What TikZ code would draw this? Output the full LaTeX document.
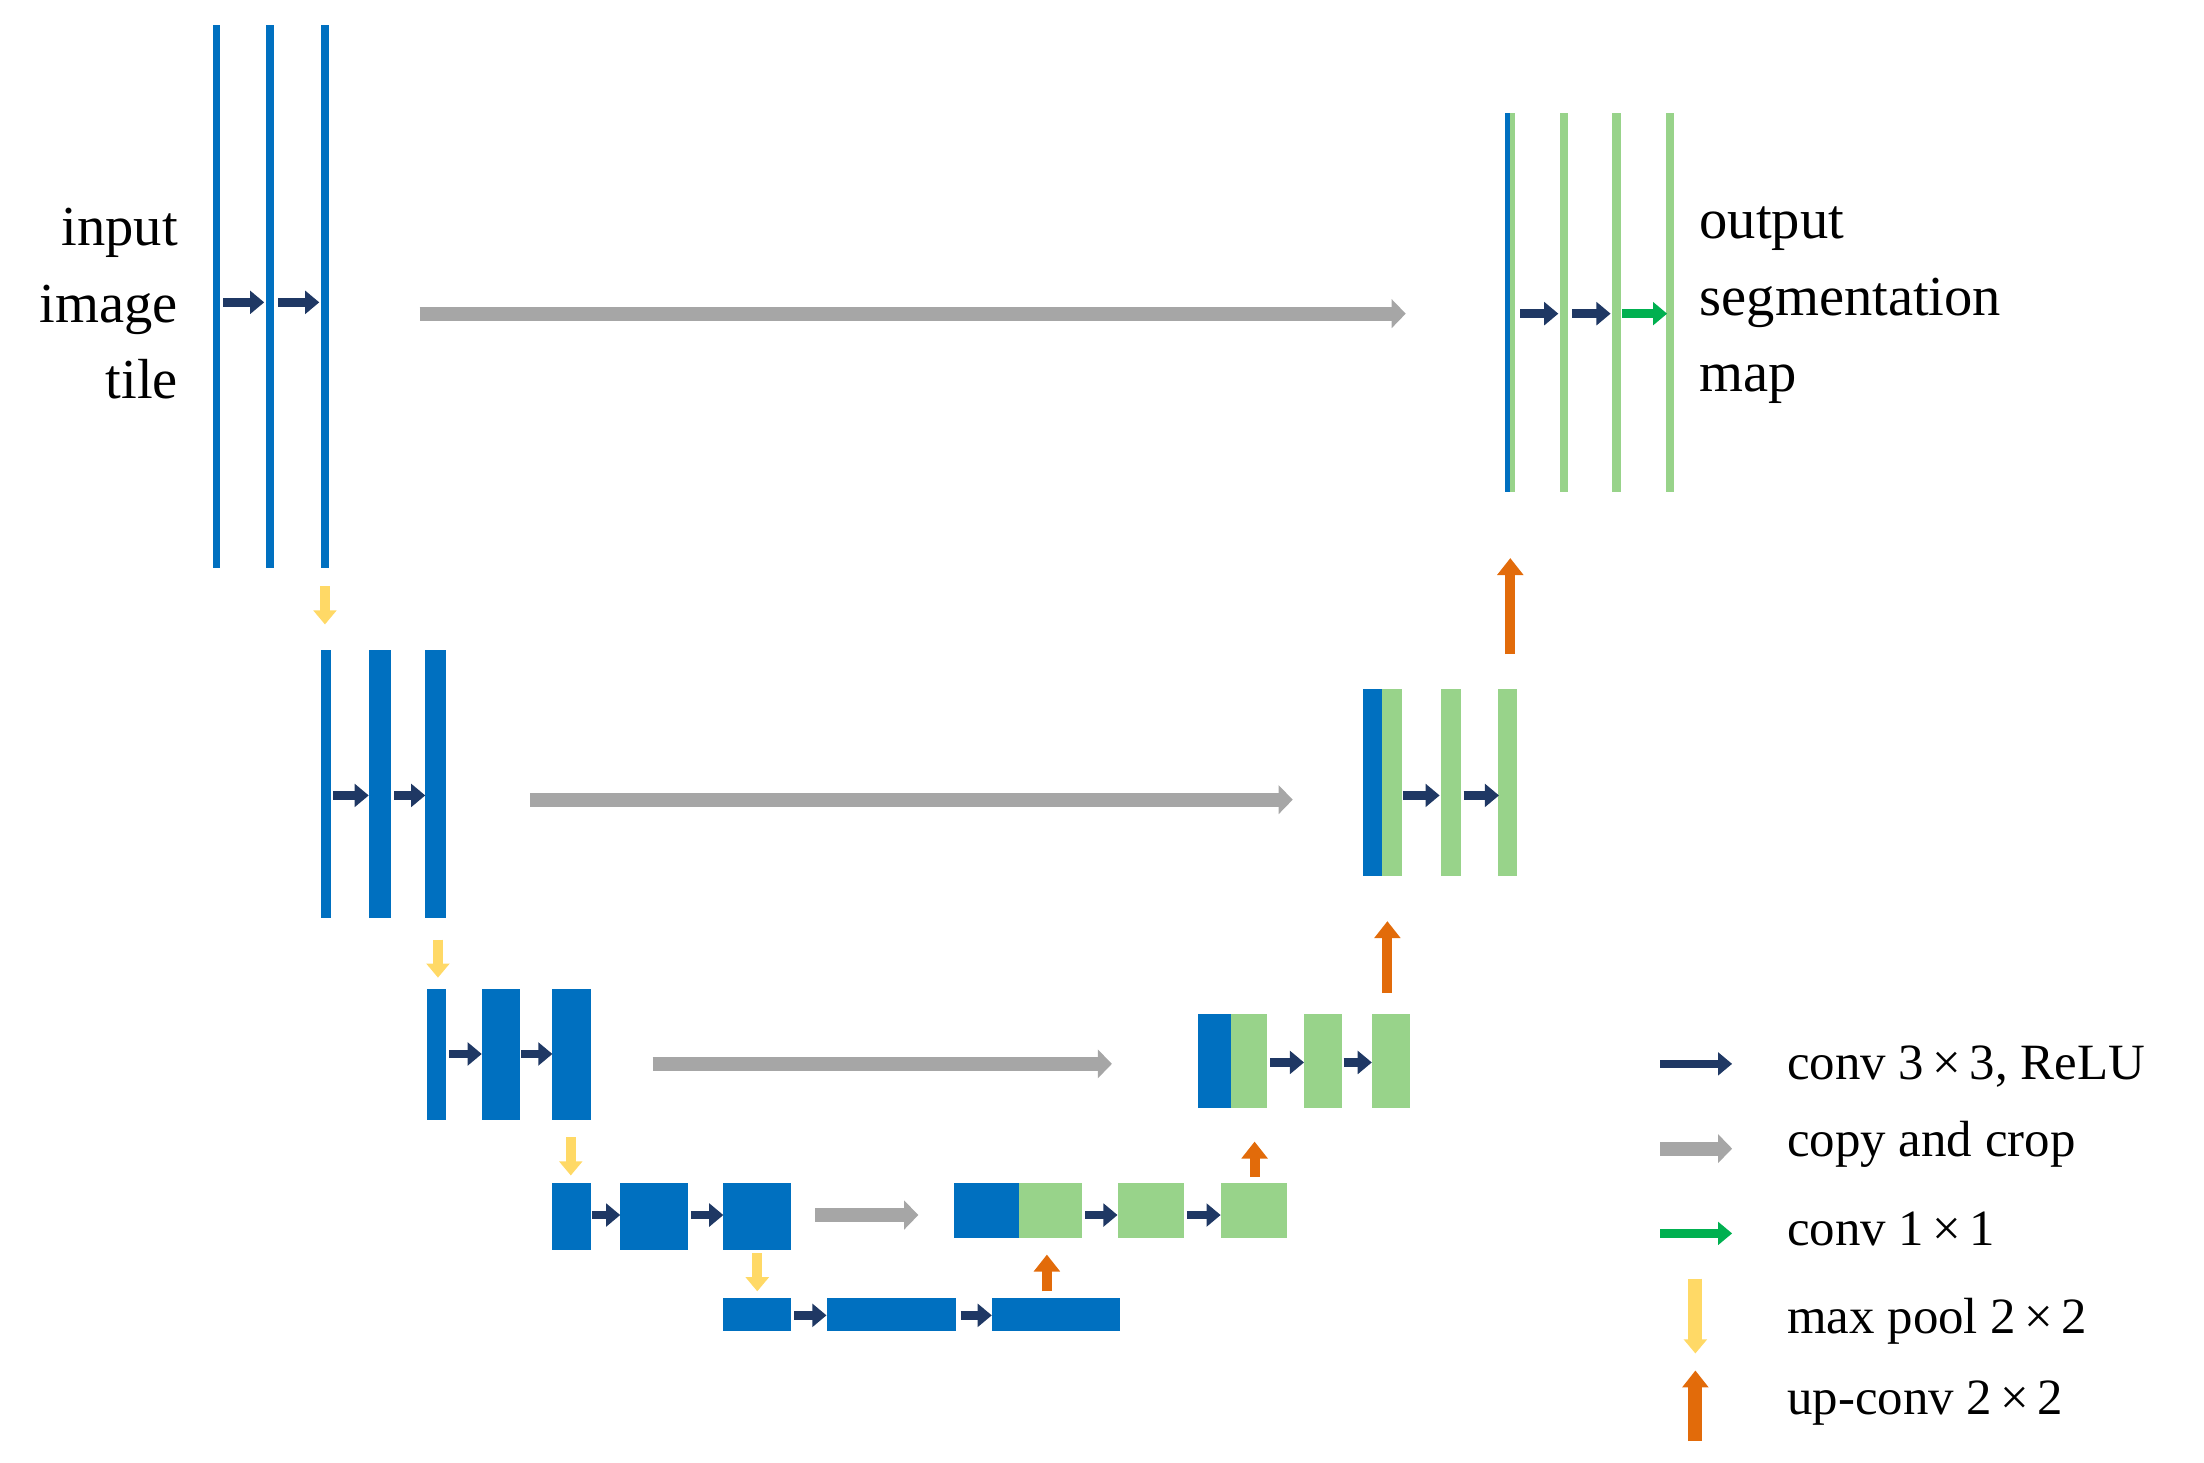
\documentclass[tikz,border=0pt]{standalone}
\usepackage{fontspec}
\setmainfont{Liberation Serif}
\usetikzlibrary{arrows.meta}
\definecolor{ublue}{HTML}{0070C0}
\definecolor{ugreen}{HTML}{98D38A}
\definecolor{unavy}{HTML}{1F3864}
\definecolor{ugray}{HTML}{A6A6A6}
\definecolor{uyel}{HTML}{FFD966}
\definecolor{uora}{HTML}{E26B0A}
\definecolor{ucg}{HTML}{00B050}
\tikzset{
 conv/.style={draw=unavy,line width=3pt,-{Triangle[length=5pt,width=8pt]}},
 convg/.style={draw=ucg,line width=3pt,-{Triangle[length=5pt,width=8pt]}},
 copy/.style={draw=ugray,line width=5pt,-{Triangle[length=5pt,width=10pt]}},
 pool/.style={draw=uyel,line width=3.5pt,-{Triangle[length=5pt,width=8pt]}},
 up/.style={draw=uora,line width=3.5pt,-{Triangle[length=6pt,width=9pt]}},
 lab/.style={font=\fontsize{20}{27}\selectfont,align=right},
 leg/.style={font=\fontsize{18}{22}\selectfont,anchor=west}
}
\newcommand{\bb}[5]{\fill[#5] (#1,#3) rectangle (#2,#4);}
\begin{document}
\begin{tikzpicture}[x=0.5pt,y=-0.5pt]
\useasboundingbox (0,0) rectangle (1560,1035);
% level 1
\bb{151}{156}{18}{402}{ublue}\bb{188}{194}{18}{402}{ublue}\bb{227}{233}{18}{402}{ublue}
\draw[conv] (158,214) -- (187,214); \draw[conv] (197,214) -- (226,214);
\node[lab,anchor=east] (in) at (133,215) {input\\image\\tile};
\draw[copy] (297,222) -- (995,222);
% output
\bb{1065}{1069}{80}{348}{ublue}\bb{1069}{1072}{80}{348}{ugreen}
\bb{1104}{1110}{80}{348}{ugreen}\bb{1141}{1147}{80}{348}{ugreen}\bb{1179}{1185}{80}{348}{ugreen}
\draw[conv] (1076,222) -- (1103,222); \draw[conv] (1113,222) -- (1140,222);
\draw[convg] (1148,222) -- (1180,222);
\node[lab,anchor=west,align=left] (out) at (1196,216) {output\\segmentation\\map};
% level 2
\draw[pool] (230,415) -- (230,442);
\bb{227}{234}{460}{650}{ublue}\bb{261}{277}{460}{650}{ublue}\bb{301}{316}{460}{650}{ublue}
\draw[conv] (236,563) -- (261,563); \draw[conv] (279,563) -- (301,563);
\draw[copy] (375,566) -- (915,566);
\bb{965}{978}{488}{620}{ublue}\bb{978}{992}{488}{620}{ugreen}\bb{1020}{1034}{488}{620}{ugreen}\bb{1060}{1074}{488}{620}{ugreen}
\draw[conv] (993,563) -- (1019,563); \draw[conv] (1036,563) -- (1061,563);
\draw[up] (1069,463) -- (1069,395);
% level 3
\draw[pool] (310,665) -- (310,692);
\bb{302}{316}{700}{793}{ublue}\bb{341}{368}{700}{793}{ublue}\bb{391}{418}{700}{793}{ublue}
\draw[conv] (318,746) -- (341,746); \draw[conv] (369,746) -- (391,746);
\draw[copy] (462,753) -- (787,753);
\bb{848}{871}{718}{784}{ublue}\bb{871}{897}{718}{784}{ugreen}\bb{923}{950}{718}{784}{ugreen}\bb{971}{998}{718}{784}{ugreen}
\draw[conv] (899,752) -- (923,752); \draw[conv] (951,752) -- (971,752);
\draw[up] (982,703) -- (982,652);
% level 4
\draw[pool] (404,805) -- (404,832);
\bb{391}{418}{837}{885}{ublue}\bb{439}{487}{837}{885}{ublue}\bb{512}{560}{837}{885}{ublue}
\draw[conv] (419,860) -- (439,860); \draw[conv] (489,860) -- (512,860);
\draw[copy] (577,860) -- (650,860);
\bb{675}{721}{837}{876}{ublue}\bb{721}{766}{837}{876}{ugreen}\bb{791}{838}{837}{876}{ugreen}\bb{864}{911}{837}{876}{ugreen}
\draw[conv] (768,860) -- (791,860); \draw[conv] (840,860) -- (864,860);
\draw[up] (888,833) -- (888,808);
% level 5
\draw[pool] (536,887) -- (536,914);
\bb{512}{560}{919}{942}{ublue}\bb{585}{677}{919}{942}{ublue}\bb{702}{793}{919}{942}{ublue}
\draw[conv] (562,931) -- (585,931); \draw[conv] (680,931) -- (702,931);
\draw[up] (741,914) -- (741,888);
% legend
\draw[conv] (1175,753) -- (1226,753);
\draw[copy] (1175,813) -- (1226,813);
\draw[convg] (1175,873) -- (1226,873);
\draw[pool,line width=5pt] (1200,905) -- (1200,958);
\draw[up,line width=5pt] (1200,1020) -- (1200,970);
\node[leg] (l1) at (1258,755) {conv 3\,×\,3, ReLU};
\node[leg] (l2) at (1258,810) {copy and crop};
\node[leg] (l3) at (1258,870) {conv 1\,×\,1};
\node[leg] (l4) at (1258,935) {max pool 2\,×\,2};
\node[leg] (l5) at (1258,993) {up-conv 2\,×\,2};
\end{tikzpicture}
\end{document}
